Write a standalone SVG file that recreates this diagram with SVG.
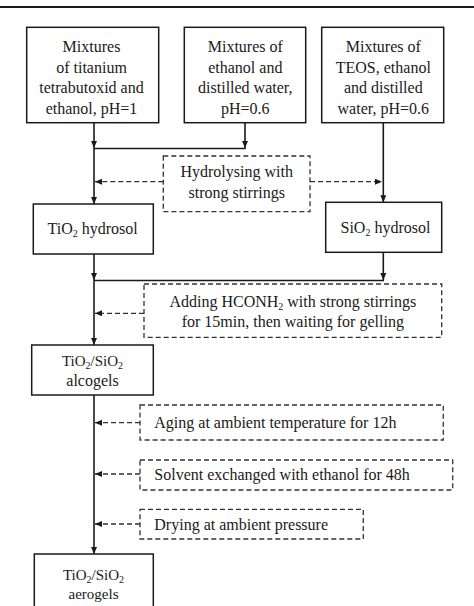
<svg xmlns="http://www.w3.org/2000/svg" width="474" height="606" viewBox="0 0 474 606">
<defs>
<marker id="ah" markerWidth="8" markerHeight="8" refX="7" refY="3" orient="auto" markerUnits="userSpaceOnUse">
<path d="M0,0 L7,3 L0,6 Z" fill="#1a1a1a"/>
</marker>
</defs>
<style>
.box{fill:#fff;stroke:#1a1a1a;stroke-width:1.5}
.dbox{fill:#fff;stroke:#333;stroke-width:1.3;stroke-dasharray:5 3}
.ln{fill:none;stroke:#1a1a1a;stroke-width:1.6}
.dl{fill:none;stroke:#333;stroke-width:1.3;stroke-dasharray:5 3}
text{font-family:"Liberation Serif","Times New Roman",serif;font-size:16px;fill:#1a1a1a}
.c{text-anchor:middle}
.sub{font-size:10px}
.sm{font-size:15px}
</style>
<rect width="474" height="606" fill="#fff"/>
<line x1="0" y1="7" x2="474" y2="7" stroke="#1a1a1a" stroke-width="2"/>

<g id="connectors">
<line class="ln" x1="94" y1="122.7" x2="94" y2="148" marker-end="url(#ah)"/>
<line class="ln" x1="245" y1="122.7" x2="245" y2="148" marker-end="url(#ah)"/>
<line class="ln" x1="94" y1="148.5" x2="245.8" y2="148.5"/>
<line class="ln" x1="94" y1="148" x2="94" y2="204" marker-end="url(#ah)"/>
<line class="ln" x1="383.3" y1="122.7" x2="383.3" y2="202.3" marker-end="url(#ah)"/>
<line class="dl" x1="163.3" y1="181.7" x2="95" y2="181.7" marker-end="url(#ah)"/>
<line class="dl" x1="310" y1="181.7" x2="382" y2="181.7" marker-end="url(#ah)"/>
<line class="ln" x1="94" y1="254" x2="94" y2="280" marker-end="url(#ah)"/>
<line class="ln" x1="383.3" y1="252.3" x2="383.3" y2="280" marker-end="url(#ah)"/>
<line class="ln" x1="94" y1="280.5" x2="384" y2="280.5"/>
<line class="ln" x1="94" y1="280" x2="94" y2="345" marker-end="url(#ah)"/>
<line class="dl" x1="144" y1="313.3" x2="95" y2="313.3" marker-end="url(#ah)"/>
<line class="ln" x1="94" y1="395" x2="94" y2="554" marker-end="url(#ah)"/>
<line class="dl" x1="140" y1="422.7" x2="95" y2="422.7" marker-end="url(#ah)"/>
<line class="dl" x1="140" y1="474" x2="95" y2="474" marker-end="url(#ah)"/>
<line class="dl" x1="140" y1="524" x2="95" y2="524" marker-end="url(#ah)"/>
</g>

<g id="n1">
<rect class="box" x="26.7" y="27.3" width="132" height="95.4"/>
<text class="c" x="91.5" y="52">Mixtures</text>
<text class="c" x="91.5" y="72.5">of titanium</text>
<text class="c" x="91.5" y="93">tetrabutoxid and</text>
<text class="c" x="91.5" y="113.5">ethanol, pH=1</text>
</g>
<g id="n2">
<rect class="box" x="184.3" y="27.3" width="121.4" height="95.4"/>
<text class="c" x="245.3" y="52">Mixtures of</text>
<text class="c" x="245.3" y="72.5">ethanol and</text>
<text class="c" x="245.3" y="93">distilled water,</text>
<text class="c" x="245.3" y="113.5">pH=0.6</text>
</g>
<g id="n3">
<rect class="box" x="321.7" y="27.3" width="122" height="95.4"/>
<text class="c" x="383.3" y="52">Mixtures of</text>
<text class="c" x="383.3" y="72.5">TEOS, ethanol</text>
<text class="c" x="383.3" y="93">and distilled</text>
<text class="c" x="383.3" y="113.5">water, pH=0.6</text>
</g>
<g id="hydrolysing">
<rect class="dbox" x="163.3" y="156" width="146.7" height="55.7"/>
<text class="c" x="236.7" y="177">Hydrolysing with</text>
<text class="c" x="236.7" y="198">strong stirrings</text>
</g>
<g id="tio2hydrosol">
<rect class="box" x="33.3" y="204" width="120" height="50"/>
<text x="47.5" y="234">TiO<tspan class="sub" dy="3">2</tspan><tspan dy="-3"> hydrosol</tspan></text>
</g>
<g id="sio2hydrosol">
<rect class="box" x="325.7" y="202.3" width="116" height="50"/>
<text x="340.5" y="232.5">SiO<tspan class="sub" dy="3">2</tspan><tspan dy="-3"> hydrosol</tspan></text>
</g>
<g id="adding">
<rect class="dbox" x="144" y="284" width="297.7" height="53.3"/>
<text class="c" x="292.8" y="307">Adding HCONH<tspan class="sub" dy="3">2</tspan><tspan dy="-3"> with strong stirrings</tspan></text>
<text class="c" x="292.8" y="327">for 15min, then waiting for gelling</text>
</g>
<g id="alcogels">
<rect class="box" x="31.7" y="345" width="121.6" height="50"/>
<text class="c sm" x="92.5" y="366">TiO<tspan class="sub" dy="3">2</tspan><tspan dy="-3">/SiO</tspan><tspan class="sub" dy="3">2</tspan></text>
<text class="c" x="92.5" y="386">alcogels</text>
</g>
<g id="aging">
<rect class="dbox" x="140" y="405" width="303.3" height="35"/>
<text x="154.3" y="428">Aging at ambient temperature for 12h</text>
</g>
<g id="solvent">
<rect class="dbox" x="140" y="460" width="312.7" height="30"/>
<text x="154.3" y="479.5">Solvent exchanged with ethanol for 48h</text>
</g>
<g id="drying">
<rect class="dbox" x="140" y="509.3" width="223.3" height="29.7"/>
<text x="154.3" y="529.5">Drying at ambient pressure</text>
</g>
<g id="aerogels">
<rect class="box" x="34.3" y="554" width="119" height="60"/>
<text class="c sm" x="93.5" y="580">TiO<tspan class="sub" dy="3">2</tspan><tspan dy="-3">/SiO</tspan><tspan class="sub" dy="3">2</tspan></text>
<text class="c sm" x="93.5" y="599">aerogels</text>
</g>
</svg>
